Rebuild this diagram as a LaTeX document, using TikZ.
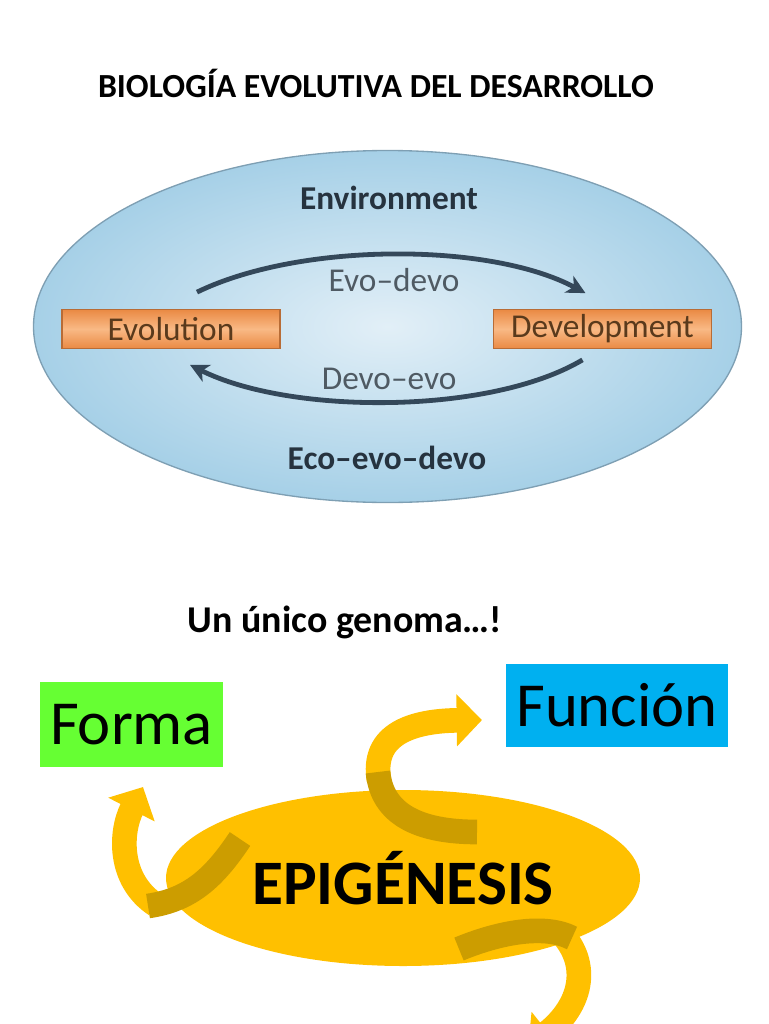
\documentclass[tikz,border=0pt]{standalone}
\usepackage{fontspec}
\setmainfont{Carlito}
\usetikzlibrary{
    arrows.meta,
    shapes.geometric,
    calc
}
\definecolor{envinner}{HTML}{E2EFF7}
\definecolor{envouter}{HTML}{A6D0E7}
\definecolor{envedge}{HTML}{7E9FB3}
\definecolor{inktext}{HTML}{26333F}
\definecolor{softtext}{HTML}{4F5A63}
\definecolor{cyclecol}{HTML}{34485A}
\definecolor{stagemid}{HTML}{F9B985}
\definecolor{stageout}{HTML}{EA8A44}
\definecolor{stageedge}{HTML}{B86C36}
\definecolor{stagetext}{HTML}{5A3A1C}
\definecolor{formagreen}{HTML}{66FF33}
\definecolor{funcblue}{HTML}{00B0F0}
\definecolor{epiyellow}{HTML}{FFC000}
\definecolor{epidark}{HTML}{CC9D00}
\tikzstyle{stage} = [
    rectangle,
    draw=stageedge,
    line width=0.8pt,
    top color=stageout,
    bottom color=stageout,
    middle color=stagemid,
    minimum width=163.5pt,
    minimum height=29pt,
    inner sep=0pt,
    text=stagetext,
    font=\fontsize{25}{30}\selectfont
]
\tikzstyle{cycle} = [
    -{Stealth[length=14pt,width=14pt,inset=4pt]},
    line width=3.6pt,
    draw=cyclecol
]
\tikzstyle{tag} = [
    rectangle,
    minimum width=137pt,
    minimum height=64pt,
    inner sep=0pt,
    font=\fontsize{47}{56}\selectfont
]
\tikzstyle{ribbon} = [
    line width=18.5pt,
    draw=epiyellow,
    -{Triangle[length=19pt,width=38pt]}
]
\tikzstyle{ribbonback} = [
    line width=18.5pt,
    draw=epidark
]

\begin{document}
\begin{tikzpicture}[x=0.75pt, y=-0.75pt]
    \useasboundingbox (0,0) rectangle (768,1024);
    \clip (0,0) rectangle (768,1024);

    % Title
    \node[font=\fontsize{25.3}{30}\selectfont\bfseries] (title) at (376,83) {BIOLOGÍA EVOLUTIVA DEL DESARROLLO};

    % Environment ellipse
    \node[ellipse, draw=envedge, line width=1pt, inner color=envinner, outer color=envouter,
          minimum width=531pt, minimum height=264pt] (env) at (387.5,326.5) {};
    \node[font=\fontsize{25}{30}\selectfont\bfseries, text=inktext] (envlabel) at (389,198) {Environment};
    \node[font=\fontsize{25}{30}\selectfont\bfseries, text=inktext] (eco) at (387,458) {Eco--evo--devo};
    \node[stage] (evo) at (171,329) {Evolution};
    \node[stage] (devo) at (602.5,329) {Development};

    % Cycle arrows
    \draw[cycle] ([shift={(26,-17)}]evo.north) .. controls (300,242) and (490,242) .. ([shift={(-17,-16)}]devo.north)
        node[pos=0.5, below=5pt, font=\fontsize{25}{30}\selectfont, text=softtext] (evodevo) {Evo--devo};
    \draw[cycle] ([shift={(-20,11)}]devo.south) .. controls (490,415) and (290,415) .. ([shift={(19,16)}]evo.south)
        node[pos=0.5, above=4pt, font=\fontsize{25}{30}\selectfont, text=softtext] (devoevo) {Devo--evo};

    % Lower part
    \node[font=\fontsize{28.4}{34}\selectfont\bfseries] (genoma) at (345,622) {Un único genoma…!};
    \node[tag, fill=formagreen] (forma) at (131.5,724.5) {Forma};
    \node[tag, fill=funcblue, minimum width=166.5pt, minimum height=62pt] (funcion) at (617,705.5) {Función};
    \node[ellipse, fill=epiyellow, minimum width=355.5pt, minimum height=132pt,
          font=\fontsize{47.5}{56}\selectfont\bfseries] (epi) at (403,878) {EPIGÉNESIS};

    % Ribbon ends
    \coordinate (formatip) at (143,787);
    \coordinate (funciontip) at (482,720);
    \coordinate (downtip) at (528,1048);

    % Ribbons
    \draw[ribbon] (156,905) .. controls (118,880) and (120,832) .. (formatip);
    \draw[ribbonback] (240,839) .. controls (214,878) and (190,900) .. (148,906);
    \draw[ribbon] (379,780) .. controls (372,738) and (405,721) .. (funciontip);
    \draw[ribbonback] (378,772) .. controls (382,815) and (420,832) .. (477,832);
    \draw[ribbon] (562,934) .. controls (590,965) and (582,1005) .. (downtip);
    \draw[ribbonback] (459,949) .. controls (500,932) and (545,924) .. (572,938);
\end{tikzpicture}
\end{document}
